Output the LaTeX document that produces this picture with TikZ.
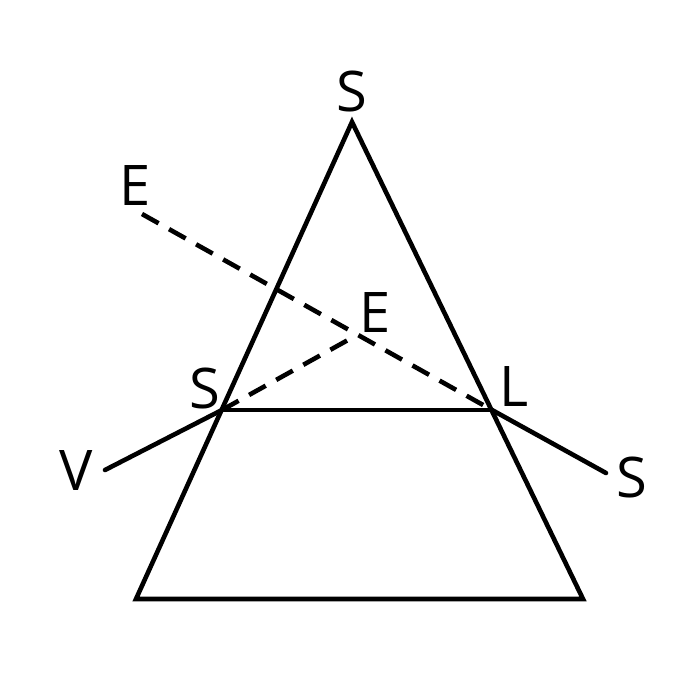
\documentclass[tikz,border=0pt]{standalone}
\usepackage{fontspec}
\setmainfont{Open Sans}
\begin{document}
\begin{tikzpicture}[x=1pt,y=-1pt,
  solidline/.style={line width=4.6pt,line cap=round,line join=miter},
  dashline/.style={line width=4.6pt,dash pattern=on 19pt off 12pt},
  lbl/.style={font=\fontsize{56}{56}\selectfont,inner sep=0pt,anchor=center}]
\useasboundingbox (0,0) rectangle (700,700);
\fill[white] (0,0) rectangle (700,700);
% points
\coordinate (A) at (352,122);
\coordinate (BL) at (136,599);
\coordinate (BR) at (583,599);
\coordinate (PS) at (222,410);
\coordinate (PL) at (492,410);
\coordinate (PV) at (105,470);
\coordinate (PR) at (606,473);
\coordinate (PE) at (142,214);
\coordinate (PEi) at (357,335);
% shapes
\draw[solidline] (BL) -- (A) -- (BR) -- cycle;
\draw[solidline] (PS) -- (PL);
\draw[solidline] (PV) -- (PS);
\draw[solidline] (PL) -- (PR);
\draw[dashline] (PE) -- (PL);
\draw[dashline] (PS) -- (PEi);
% labels
\node[lbl] (tS) at (352,92) {S};
\node[lbl] (tE1) at (135,186) {E};
\node[lbl] (tE2) at (375,313) {E};
\node[lbl] (tS2) at (205,388) {S};
\node[lbl] (tL) at (514,387) {L};
\node[lbl] (tV) at (76,471) {V};
\node[lbl] (tS3) at (632,477) {S};
\end{tikzpicture}
\end{document}
